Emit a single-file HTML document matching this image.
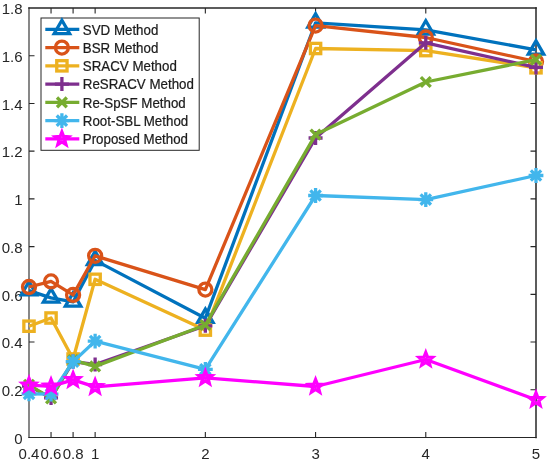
<!DOCTYPE html>
<html><head><meta charset="utf-8"><title>plot</title>
<style>
html,body{margin:0;padding:0;background:#fff;}
body{width:550px;height:464px;overflow:hidden;}
svg{display:block;}
text{font-family:"Liberation Sans",sans-serif;font-size:13.33px;fill:#1c1c1c;stroke:#1c1c1c;stroke-width:0.22px;}
.t{font-size:15px;fill:#262626;stroke:none;}
</style></head><body>
<svg width="550" height="464" viewBox="0 0 550 464">
<rect width="550" height="464" fill="#fff"/>
<g stroke="#262626" fill="none" stroke-linecap="square">
<path d="M29.00 8.00V437.50" stroke-width="1.1"/>
<path d="M29.00 437.50H536.00" stroke-width="1.1"/>
<path d="M29.00 8.00H536.00" stroke-width="1.5"/>
<path d="M536.00 8.00V437.50" stroke-width="1.5"/>
</g>
<g stroke="#262626" stroke-width="1.1" fill="none">
<path d="M51.04 437.50v-5.50M51.04 8.00v5.50"/>
<path d="M73.09 437.50v-5.50M73.09 8.00v5.50"/>
<path d="M95.13 437.50v-5.50M95.13 8.00v5.50"/>
<path d="M205.35 437.50v-5.50M205.35 8.00v5.50"/>
<path d="M315.57 437.50v-5.50M315.57 8.00v5.50"/>
<path d="M425.78 437.50v-5.50M425.78 8.00v5.50"/>
<path d="M29.00 389.78h5.50M536.00 389.78h-5.50"/>
<path d="M29.00 342.06h5.50M536.00 342.06h-5.50"/>
<path d="M29.00 294.33h5.50M536.00 294.33h-5.50"/>
<path d="M29.00 246.61h5.50M536.00 246.61h-5.50"/>
<path d="M29.00 198.89h5.50M536.00 198.89h-5.50"/>
<path d="M29.00 151.17h5.50M536.00 151.17h-5.50"/>
<path d="M29.00 103.44h5.50M536.00 103.44h-5.50"/>
<path d="M29.00 55.72h5.50M536.00 55.72h-5.50"/>
</g>
<g text-anchor="middle" font-size="15">
<text x="29.00" y="459.0" class="t">0.4</text>
<text x="51.04" y="459.0" class="t">0.6</text>
<text x="73.09" y="459.0" class="t">0.8</text>
<text x="95.13" y="459.0" class="t">1</text>
<text x="205.35" y="459.0" class="t">2</text>
<text x="315.57" y="459.0" class="t">3</text>
<text x="425.78" y="459.0" class="t">4</text>
<text x="536.00" y="459.0" class="t">5</text>
</g><g text-anchor="end" font-size="15">
<text x="22.6" y="443.80" class="t">0</text>
<text x="22.6" y="396.08" class="t">0.2</text>
<text x="22.6" y="348.36" class="t">0.4</text>
<text x="22.6" y="300.63" class="t">0.6</text>
<text x="22.6" y="252.91" class="t">0.8</text>
<text x="22.6" y="205.19" class="t">1</text>
<text x="22.6" y="157.47" class="t">1.2</text>
<text x="22.6" y="109.74" class="t">1.4</text>
<text x="22.6" y="62.02" class="t">1.6</text>
<text x="22.6" y="14.30" class="t">1.8</text>
</g>
<polyline points="29.00,290.60 51.04,297.90 73.09,301.90 95.13,260.40 205.35,318.20 315.57,22.90 425.78,29.80 536.00,49.90" fill="none" stroke="#0072BD" stroke-width="3.3" stroke-linejoin="round"/>
<polygon points="29.00,281.51 21.30,294.85 36.70,294.85" fill="none" stroke="#0072BD" stroke-width="3.3" stroke-linejoin="miter"/>
<polygon points="51.04,288.81 43.34,302.15 58.74,302.15" fill="none" stroke="#0072BD" stroke-width="3.3" stroke-linejoin="miter"/>
<polygon points="73.09,292.81 65.39,306.15 80.79,306.15" fill="none" stroke="#0072BD" stroke-width="3.3" stroke-linejoin="miter"/>
<polygon points="95.13,251.31 87.43,264.65 102.83,264.65" fill="none" stroke="#0072BD" stroke-width="3.3" stroke-linejoin="miter"/>
<polygon points="205.35,309.11 197.65,322.45 213.05,322.45" fill="none" stroke="#0072BD" stroke-width="3.3" stroke-linejoin="miter"/>
<polygon points="315.57,13.81 307.87,27.15 323.27,27.15" fill="none" stroke="#0072BD" stroke-width="3.3" stroke-linejoin="miter"/>
<polygon points="425.78,20.71 418.08,34.05 433.48,34.05" fill="none" stroke="#0072BD" stroke-width="3.3" stroke-linejoin="miter"/>
<polygon points="536.00,40.81 528.30,54.15 543.70,54.15" fill="none" stroke="#0072BD" stroke-width="3.3" stroke-linejoin="miter"/>
<polyline points="29.00,287.00 51.04,281.40 73.09,294.90 95.13,255.80 205.35,289.60 315.57,25.60 425.78,37.50 536.00,61.50" fill="none" stroke="#D95319" stroke-width="3.3" stroke-linejoin="round"/>
<circle cx="29.00" cy="287.00" r="6.5" fill="none" stroke="#D95319" stroke-width="3.3"/>
<circle cx="51.04" cy="281.40" r="6.5" fill="none" stroke="#D95319" stroke-width="3.3"/>
<circle cx="73.09" cy="294.90" r="6.5" fill="none" stroke="#D95319" stroke-width="3.3"/>
<circle cx="95.13" cy="255.80" r="6.5" fill="none" stroke="#D95319" stroke-width="3.3"/>
<circle cx="205.35" cy="289.60" r="6.5" fill="none" stroke="#D95319" stroke-width="3.3"/>
<circle cx="315.57" cy="25.60" r="6.5" fill="none" stroke="#D95319" stroke-width="3.3"/>
<circle cx="425.78" cy="37.50" r="6.5" fill="none" stroke="#D95319" stroke-width="3.3"/>
<circle cx="536.00" cy="61.50" r="6.5" fill="none" stroke="#D95319" stroke-width="3.3"/>
<polyline points="29.00,326.20 51.04,318.00 73.09,359.00 95.13,279.30 205.35,330.10 315.57,48.50 425.78,50.60 536.00,67.80" fill="none" stroke="#EDB120" stroke-width="3.3" stroke-linejoin="round"/>
<rect x="23.85" y="321.05" width="10.3" height="10.3" fill="none" stroke="#EDB120" stroke-width="3.3"/>
<rect x="45.89" y="312.85" width="10.3" height="10.3" fill="none" stroke="#EDB120" stroke-width="3.3"/>
<rect x="67.94" y="353.85" width="10.3" height="10.3" fill="none" stroke="#EDB120" stroke-width="3.3"/>
<rect x="89.98" y="274.15" width="10.3" height="10.3" fill="none" stroke="#EDB120" stroke-width="3.3"/>
<rect x="200.20" y="324.95" width="10.3" height="10.3" fill="none" stroke="#EDB120" stroke-width="3.3"/>
<rect x="310.42" y="43.35" width="10.3" height="10.3" fill="none" stroke="#EDB120" stroke-width="3.3"/>
<rect x="420.63" y="45.45" width="10.3" height="10.3" fill="none" stroke="#EDB120" stroke-width="3.3"/>
<rect x="530.85" y="62.65" width="10.3" height="10.3" fill="none" stroke="#EDB120" stroke-width="3.3"/>
<polyline points="29.00,386.00 51.04,397.90 73.09,361.60 95.13,364.50 205.35,325.80 315.57,138.00 425.78,42.80 536.00,67.40" fill="none" stroke="#7E2F8E" stroke-width="3.3" stroke-linejoin="round"/>
<path d="M22.00 386.00H36.00M29.00 379.00V393.00" fill="none" stroke="#7E2F8E" stroke-width="3.3"/>
<path d="M44.04 397.90H58.04M51.04 390.90V404.90" fill="none" stroke="#7E2F8E" stroke-width="3.3"/>
<path d="M66.09 361.60H80.09M73.09 354.60V368.60" fill="none" stroke="#7E2F8E" stroke-width="3.3"/>
<path d="M88.13 364.50H102.13M95.13 357.50V371.50" fill="none" stroke="#7E2F8E" stroke-width="3.3"/>
<path d="M198.35 325.80H212.35M205.35 318.80V332.80" fill="none" stroke="#7E2F8E" stroke-width="3.3"/>
<path d="M308.57 138.00H322.57M315.57 131.00V145.00" fill="none" stroke="#7E2F8E" stroke-width="3.3"/>
<path d="M418.78 42.80H432.78M425.78 35.80V49.80" fill="none" stroke="#7E2F8E" stroke-width="3.3"/>
<path d="M529.00 67.40H543.00M536.00 60.40V74.40" fill="none" stroke="#7E2F8E" stroke-width="3.3"/>
<polyline points="29.00,384.80 51.04,398.40 73.09,360.20 95.13,366.40 205.35,325.00 315.57,134.60 425.78,82.00 536.00,59.70" fill="none" stroke="#77AC30" stroke-width="3.3" stroke-linejoin="round"/>
<path d="M24.09 379.89L33.91 389.71M24.09 389.71L33.91 379.89" fill="none" stroke="#77AC30" stroke-width="3.3"/>
<path d="M46.13 393.49L55.96 403.31M46.13 403.31L55.96 393.49" fill="none" stroke="#77AC30" stroke-width="3.3"/>
<path d="M68.17 355.29L78.00 365.11M68.17 365.11L78.00 355.29" fill="none" stroke="#77AC30" stroke-width="3.3"/>
<path d="M90.22 361.49L100.04 371.31M90.22 371.31L100.04 361.49" fill="none" stroke="#77AC30" stroke-width="3.3"/>
<path d="M200.43 320.09L210.26 329.91M200.43 329.91L210.26 320.09" fill="none" stroke="#77AC30" stroke-width="3.3"/>
<path d="M310.65 129.69L320.48 139.51M310.65 139.51L320.48 129.69" fill="none" stroke="#77AC30" stroke-width="3.3"/>
<path d="M420.87 77.09L430.70 86.91M420.87 86.91L430.70 77.09" fill="none" stroke="#77AC30" stroke-width="3.3"/>
<path d="M531.09 54.79L540.91 64.61M531.09 64.61L540.91 54.79" fill="none" stroke="#77AC30" stroke-width="3.3"/>
<polyline points="29.00,393.80 51.04,394.20 73.09,361.70 95.13,341.10 205.35,369.30 315.57,195.50 425.78,199.60 536.00,175.50" fill="none" stroke="#42B6EC" stroke-width="3.3" stroke-linejoin="round"/>
<path d="M21.60 393.80H36.40M29.00 386.40V401.20M23.84 388.64L34.16 398.96M23.84 398.96L34.16 388.64" fill="none" stroke="#42B6EC" stroke-width="3.3"/>
<path d="M43.64 394.20H58.44M51.04 386.80V401.60M45.88 389.04L56.21 399.36M45.88 399.36L56.21 389.04" fill="none" stroke="#42B6EC" stroke-width="3.3"/>
<path d="M65.69 361.70H80.49M73.09 354.30V369.10M67.93 356.54L78.25 366.86M67.93 366.86L78.25 356.54" fill="none" stroke="#42B6EC" stroke-width="3.3"/>
<path d="M87.73 341.10H102.53M95.13 333.70V348.50M89.97 335.94L100.29 346.26M89.97 346.26L100.29 335.94" fill="none" stroke="#42B6EC" stroke-width="3.3"/>
<path d="M197.95 369.30H212.75M205.35 361.90V376.70M200.19 364.14L210.51 374.46M200.19 374.46L210.51 364.14" fill="none" stroke="#42B6EC" stroke-width="3.3"/>
<path d="M308.17 195.50H322.97M315.57 188.10V202.90M310.40 190.34L320.73 200.66M310.40 200.66L320.73 190.34" fill="none" stroke="#42B6EC" stroke-width="3.3"/>
<path d="M418.38 199.60H433.18M425.78 192.20V207.00M420.62 194.44L430.94 204.76M420.62 204.76L430.94 194.44" fill="none" stroke="#42B6EC" stroke-width="3.3"/>
<path d="M528.60 175.50H543.40M536.00 168.10V182.90M530.84 170.34L541.16 180.66M530.84 180.66L541.16 170.34" fill="none" stroke="#42B6EC" stroke-width="3.3"/>
<polyline points="29.00,385.20 51.04,386.40 73.09,379.90 95.13,386.90 205.35,377.90 315.57,386.50 425.78,359.50 536.00,399.70" fill="none" stroke="#FF00FF" stroke-width="3.3" stroke-linejoin="round"/>
<polygon points="29.00,378.30 30.74,382.80 35.56,383.07 31.82,386.12 33.06,390.78 29.00,388.17 24.94,390.78 26.18,386.12 22.44,383.07 27.26,382.80" fill="none" stroke="#FF00FF" stroke-width="3.3" stroke-linejoin="miter" stroke-miterlimit="6"/>
<polygon points="51.04,379.50 52.79,384.00 57.61,384.27 53.87,387.32 55.10,391.98 51.04,389.37 46.99,391.98 48.22,387.32 44.48,384.27 49.30,384.00" fill="none" stroke="#FF00FF" stroke-width="3.3" stroke-linejoin="miter" stroke-miterlimit="6"/>
<polygon points="73.09,373.00 74.83,377.50 79.65,377.77 75.91,380.82 77.14,385.48 73.09,382.87 69.03,385.48 70.27,380.82 66.52,377.77 71.34,377.50" fill="none" stroke="#FF00FF" stroke-width="3.3" stroke-linejoin="miter" stroke-miterlimit="6"/>
<polygon points="95.13,380.00 96.87,384.50 101.69,384.77 97.95,387.82 99.19,392.48 95.13,389.87 91.07,392.48 92.31,387.82 88.57,384.77 93.39,384.50" fill="none" stroke="#FF00FF" stroke-width="3.3" stroke-linejoin="miter" stroke-miterlimit="6"/>
<polygon points="205.35,371.00 207.09,375.50 211.91,375.77 208.17,378.82 209.40,383.48 205.35,380.87 201.29,383.48 202.53,378.82 198.79,375.77 203.60,375.50" fill="none" stroke="#FF00FF" stroke-width="3.3" stroke-linejoin="miter" stroke-miterlimit="6"/>
<polygon points="315.57,379.60 317.31,384.10 322.13,384.37 318.39,387.42 319.62,392.08 315.57,389.47 311.51,392.08 312.74,387.42 309.00,384.37 313.82,384.10" fill="none" stroke="#FF00FF" stroke-width="3.3" stroke-linejoin="miter" stroke-miterlimit="6"/>
<polygon points="425.78,352.60 427.53,357.10 432.34,357.37 428.60,360.42 429.84,365.08 425.78,362.47 421.73,365.08 422.96,360.42 419.22,357.37 424.04,357.10" fill="none" stroke="#FF00FF" stroke-width="3.3" stroke-linejoin="miter" stroke-miterlimit="6"/>
<polygon points="536.00,392.80 537.74,397.30 542.56,397.57 538.82,400.62 540.06,405.28 536.00,402.67 531.94,405.28 533.18,400.62 529.44,397.57 534.26,397.30" fill="none" stroke="#FF00FF" stroke-width="3.3" stroke-linejoin="miter" stroke-miterlimit="6"/>
<rect x="41.0" y="18.0" width="158.2" height="132.3" fill="#fff" stroke="#262626" stroke-width="1"/>
<path d="M45.3 29.30H79.3" stroke="#0072BD" stroke-width="3.3" fill="none"/>
<polygon points="61.90,20.21 54.20,33.55 69.60,33.55" fill="none" stroke="#0072BD" stroke-width="3.3" stroke-linejoin="miter"/>
<text transform="translate(82.8 34.65) scale(1 1.07)">SVD Method</text>
<path d="M45.3 47.57H79.3" stroke="#D95319" stroke-width="3.3" fill="none"/>
<circle cx="61.90" cy="47.57" r="6.5" fill="none" stroke="#D95319" stroke-width="3.3"/>
<text transform="translate(82.8 52.92) scale(1 1.07)">BSR Method</text>
<path d="M45.3 65.84H79.3" stroke="#EDB120" stroke-width="3.3" fill="none"/>
<rect x="56.75" y="60.69" width="10.3" height="10.3" fill="none" stroke="#EDB120" stroke-width="3.3"/>
<text transform="translate(82.8 71.19) scale(1 1.07)">SRACV Method</text>
<path d="M45.3 84.11H79.3" stroke="#7E2F8E" stroke-width="3.3" fill="none"/>
<path d="M54.90 84.11H68.90M61.90 77.11V91.11" fill="none" stroke="#7E2F8E" stroke-width="3.3"/>
<text transform="translate(82.8 89.46) scale(1 1.07)">ReSRACV Method</text>
<path d="M45.3 102.38H79.3" stroke="#77AC30" stroke-width="3.3" fill="none"/>
<path d="M56.99 97.47L66.81 107.29M56.99 107.29L66.81 97.47" fill="none" stroke="#77AC30" stroke-width="3.3"/>
<text transform="translate(82.8 107.73) scale(1 1.07)">Re-SpSF Method</text>
<path d="M45.3 120.65H79.3" stroke="#42B6EC" stroke-width="3.3" fill="none"/>
<path d="M54.50 120.65H69.30M61.90 113.25V128.05M56.74 115.49L67.06 125.81M56.74 125.81L67.06 115.49" fill="none" stroke="#42B6EC" stroke-width="3.3"/>
<text transform="translate(82.8 126.00) scale(1 1.07)">Root-SBL Method</text>
<path d="M45.3 138.92H79.3" stroke="#FF00FF" stroke-width="3.3" fill="none"/>
<polygon points="61.90,132.02 63.64,136.52 68.46,136.79 64.72,139.84 65.96,144.50 61.90,141.89 57.84,144.50 59.08,139.84 55.34,136.79 60.16,136.52" fill="none" stroke="#FF00FF" stroke-width="3.3" stroke-linejoin="miter" stroke-miterlimit="6"/>
<text transform="translate(82.8 144.27) scale(1 1.07)">Proposed Method</text>
</svg></body></html>
